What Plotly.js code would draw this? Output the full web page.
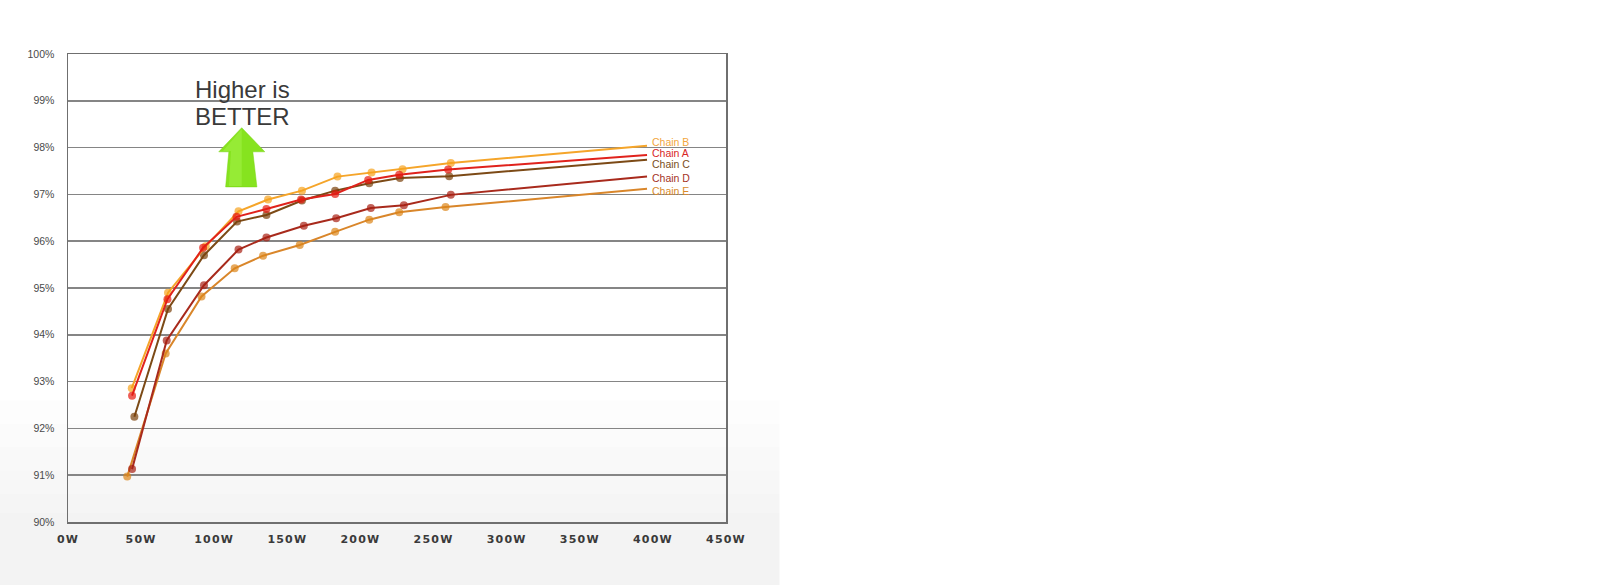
<!DOCTYPE html>
<html>
<head>
<meta charset="utf-8">
<script src="https://cdn.plot.ly/plotly-3.0.1.min.js"></script>
<style>
  html, body { margin: 0; padding: 0; background: #ffffff; }
  #chart { width: 1600px; height: 585px; }
  .xtick text { letter-spacing: 1.2px; }
</style>
</head>
<body>
<div id="chart"></div>
<script>
// ---- Data ----
const seriesNames = ["Chain B", "Chain A", "Chain C", "Chain D", "Chain E"];

const chainB_x = [43.6, 68.4, 94.2, 116.6, 136.8, 160.0, 184.3, 207.6, 228.8, 261.8, 396];
const chainB_y = [92.86, 94.90, 95.89, 96.64, 96.89, 97.08, 97.38, 97.47, 97.54, 97.67, 98.04];

const chainA_x = [43.8, 68.0, 92.4, 115.2, 135.7, 159.4, 182.7, 205.3, 226.5, 260.0, 396];
const chainA_y = [92.70, 94.76, 95.86, 96.52, 96.69, 96.89, 97.01, 97.31, 97.42, 97.53, 97.84];

const chainC_x = [45.4, 68.4, 93.0, 115.6, 135.7, 160.0, 182.7, 206.0, 227.0, 260.7, 396];
const chainC_y = [92.25, 94.55, 95.70, 96.42, 96.56, 96.87, 97.08, 97.24, 97.35, 97.39, 97.74];

const chainD_x = [43.8, 67.5, 93.0, 116.6, 135.7, 161.3, 183.4, 207.1, 229.7, 261.8, 396];
const chainD_y = [91.13, 93.88, 95.06, 95.82, 96.08, 96.33, 96.49, 96.71, 96.77, 96.99, 97.38];

const chainE_x = [40.5, 66.8, 91.3, 114.0, 133.4, 158.5, 182.7, 206.0, 226.5, 258.2, 396];
const chainE_y = [90.97, 93.60, 94.82, 95.42, 95.69, 95.92, 96.20, 96.46, 96.62, 96.73, 97.12];

const xTickVals = [0, 50, 100, 150, 200, 250, 300, 350, 400, 450];
const xTickText = ["0W", "50W", "100W", "150W", "200W", "250W", "300W", "350W", "400W", "450W"];
const yTickVals = [90, 91, 92, 93, 94, 95, 96, 97, 98, 99, 100];
const yTickText = ["90%", "91%", "92%", "93%", "94%", "95%", "96%", "97%", "98%", "99%", "100%"];

const calloutLines = ["Higher is", "BETTER"];

// ---- Styling ----
const styles = {
  "Chain B": { line: "#F5A52A", marker: "#F7A21C", label: "#F2A640", labelOffset: 0.08 },
  "Chain A": { line: "#E0221C", marker: "#E5190F", label: "#D9261F", labelOffset: 0.04 },
  "Chain C": { line: "#7C4A16", marker: "#7A420C", label: "#7A4E22", labelOffset: -0.08 },
  "Chain D": { line: "#A82A1C", marker: "#A81F12", label: "#A5321F", labelOffset: -0.02 },
  "Chain E": { line: "#D9862A", marker: "#DB8418", label: "#D98A2A", labelOffset: -0.04 }
};

const allX = [chainB_x, chainA_x, chainC_x, chainD_x, chainE_x];
const allY = [chainB_y, chainA_y, chainC_y, chainD_y, chainE_y];

// draw order: bottom-most first so B/A end on top
const drawOrder = [4, 3, 2, 0, 1];
const traces = drawOrder.map(i => {
  const name = seriesNames[i];
  const xs = allX[i], ys = allY[i];
  const st = styles[name];
  return {
    type: "scatter",
    mode: "lines+markers",
    name: name,
    x: xs,
    y: ys,
    line: { color: st.line, width: 2 },
    marker: {
      color: st.marker,
      size: xs.map((_, k) => (k === xs.length - 1 ? 0 : 8)),
      line: { width: 0 }
    },
    cliponaxis: false,
    hoverinfo: "x+y+name"
  };
});

// End-of-line labels
const labelAnnotations = seriesNames.map((name, i) => {
  const xs = allX[i], ys = allY[i];
  return {
    x: xs[xs.length - 1] + 2,
    y: ys[ys.length - 1] + styles[name].labelOffset,
    xref: "x", yref: "y",
    text: name,
    showarrow: false,
    xanchor: "left",
    yanchor: "middle",
    font: { family: "Liberation Sans, Arial, sans-serif", size: 10.5, color: styles[name].label }
  };
});

const calloutAnnotations = [
  { x: 85.3, y: 99.24, text: calloutLines[0] },
  { x: 85.3, y: 98.66, text: calloutLines[1] }
].map(a => ({
  x: a.x, y: a.y, xref: "x", yref: "y",
  text: a.text, showarrow: false,
  xanchor: "left", yanchor: "middle",
  font: { family: "Liberation Sans, Arial, sans-serif", size: 24, color: "#3a3a3a" }
}));

// Background floor gradient (decorative) in paper coords
const bgShapes = [];
const bgTops = [0.26, 0.21, 0.16, 0.11, 0.06, 0.02];
bgTops.forEach(t => {
  bgShapes.push({
    type: "rect", xref: "paper", yref: "paper",
    x0: -0.104, x1: 1.082, y0: -0.14, y1: t,
    fillcolor: "rgba(0,0,0,0.0075)", line: { width: 0 }, layer: "below"
  });
});

// Green "up" arrow (decorative)
const arrowShape = {
  type: "path", xref: "x", yref: "y",
  path: "M 118.8 98.425 L 103.1 97.91 L 110.0 97.91 L 107.8 97.16 L 129.2 97.16 L 126.4 97.91 L 134.6 97.91 Z",
  fillcolor: "#86E31F",
  line: { color: "#7BD414", width: 0.5 },
  layer: "above"
};
const arrowHighlight = {
  type: "path", xref: "x", yref: "y",
  path: "M 118.8 98.40 L 106.0 97.93 L 111.5 97.93 L 110.0 97.18 L 118.8 97.18 Z",
  fillcolor: "rgba(170,245,80,0.45)",
  line: { width: 0 },
  layer: "above"
};

const layout = {
  width: 1600,
  height: 585,
  margin: { l: 68, r: 874, t: 54, b: 63, pad: 0 },
  paper_bgcolor: "#ffffff",
  plot_bgcolor: "rgba(0,0,0,0)",
  showlegend: false,
  xaxis: {
    range: [0, 450],
    tickvals: xTickVals,
    ticktext: xTickText,
    showgrid: false,
    zeroline: false,
    showline: true,
    linecolor: "#6f6f6f",
    linewidth: 1.5,
    mirror: true,
    ticks: "",
    ticklabelstandoff: 6,
    tickfont: { family: "DejaVu Sans, sans-serif", size: 11, color: "#3a3a3a", weight: "bold" },
    fixedrange: true
  },
  yaxis: {
    range: [90, 100],
    tickvals: yTickVals,
    ticktext: yTickText,
    showgrid: true,
    gridcolor: "#858585",
    gridwidth: 1.5,
    zeroline: false,
    showline: true,
    linecolor: "#6f6f6f",
    linewidth: 1.5,
    mirror: true,
    ticks: "",
    ticklabelstandoff: 10,
    tickfont: { family: "Liberation Sans, Arial, sans-serif", size: 10.5, color: "#4a4a4a" },
    fixedrange: true
  },
  shapes: bgShapes.concat([arrowShape, arrowHighlight]),
  annotations: labelAnnotations.concat(calloutAnnotations)
};

Plotly.newPlot("chart", traces, layout, { displayModeBar: false, staticPlot: true });
</script>
</body>
</html>
